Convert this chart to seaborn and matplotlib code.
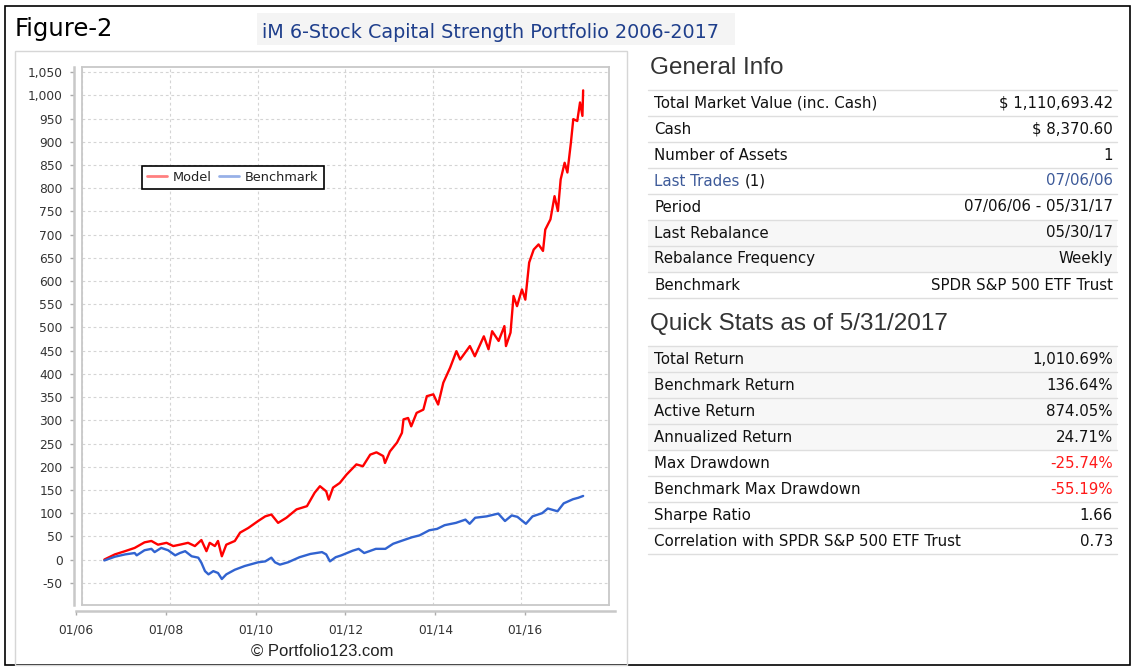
import pandas as pd
import seaborn as sns
import matplotlib.pyplot as plt
import matplotlib.dates as mdates
from matplotlib.patches import Rectangle
from matplotlib.lines import Line2D
from matplotlib.ticker import FuncFormatter

W, H = 1134, 670

# cumulative return (%)
model_dates = [
    '2006-07-06', '2006-10-01', '2006-12-25', '2007-03-15', '2007-06-05', '2007-08-01',
    '2007-09-25', '2007-12-05', '2008-01-30', '2008-03-25', '2008-06-01', '2008-07-28',
    '2008-09-20', '2008-11-01', '2008-11-28', '2009-01-10', '2009-02-05', '2009-03-09',
    '2009-04-15', '2009-06-25', '2009-08-08', '2009-10-15', '2010-01-05', '2010-03-05',
    '2010-04-25', '2010-06-20', '2010-08-28', '2010-11-20', '2011-02-15', '2011-04-20',
    '2011-06-03', '2011-07-25', '2011-08-15', '2011-09-20', '2011-11-15', '2012-01-10',
    '2012-04-01', '2012-05-25', '2012-07-25', '2012-09-15', '2012-11-10', '2012-11-25',
    '2013-01-05', '2013-03-05', '2013-04-15', '2013-04-28', '2013-06-05', '2013-07-01',
    '2013-08-15', '2013-10-10', '2013-11-08', '2014-01-01', '2014-02-10', '2014-03-25',
    '2014-05-20', '2014-07-12', '2014-08-12', '2014-11-01', '2014-12-12', '2015-02-25',
    '2015-04-05', '2015-05-05', '2015-06-28', '2015-08-15', '2015-08-28', '2015-10-05',
    '2015-10-30', '2015-11-28', '2016-01-08', '2016-02-05', '2016-03-08', '2016-04-15',
    '2016-05-25', '2016-07-01', '2016-07-20', '2016-09-01', '2016-10-05', '2016-11-02',
    '2016-11-25', '2016-12-28', '2017-01-20', '2017-02-18', '2017-03-10', '2017-04-12',
    '2017-05-05', '2017-05-25', '2017-05-31',
]
model_values = [
    0, 11, 18, 25, 37, 40,
    32, 36, 29, 32, 36, 29,
    42, 18, 36, 29, 40, 7,
    32, 40, 58, 68, 83, 93,
    97, 79, 90, 108, 115, 144,
    158, 147, 129, 155, 165, 183,
    205, 201, 226, 231, 223, 208,
    233, 252, 273, 302, 305, 287,
    316, 323, 352, 356, 334, 381,
    413, 449, 431, 460, 438, 481,
    453, 492, 471, 503, 460, 489,
    568, 546, 582, 560, 640, 668,
    679, 665, 711, 733, 783, 751,
    819, 855, 834, 898, 949, 945,
    985, 956, 1011,
]

bench_dates = [
    '2006-07-06', '2006-10-01', '2006-12-25', '2007-03-15', '2007-04-01', '2007-06-05',
    '2007-08-01', '2007-08-28', '2007-10-22', '2007-12-18', '2008-02-15', '2008-03-25',
    '2008-05-08', '2008-07-01', '2008-08-25', '2008-09-20', '2008-10-20', '2008-11-18',
    '2008-12-28', '2009-02-05', '2009-03-09', '2009-04-15', '2009-06-25', '2009-09-15',
    '2010-01-05', '2010-03-05', '2010-04-25', '2010-05-25', '2010-07-05', '2010-09-10',
    '2010-12-15', '2011-03-15', '2011-06-20', '2011-07-25', '2011-08-25', '2011-10-12',
    '2011-11-28', '2012-03-01', '2012-04-20', '2012-06-05', '2012-09-10', '2012-11-28',
    '2013-02-01', '2013-04-20', '2013-07-08', '2013-09-08', '2013-11-28', '2014-02-01',
    '2014-04-05', '2014-07-08', '2014-09-25', '2014-10-30', '2014-12-15', '2015-03-20',
    '2015-06-25', '2015-08-20', '2015-10-15', '2015-12-01', '2016-02-10', '2016-04-05',
    '2016-06-25', '2016-08-10', '2016-10-30', '2016-12-20', '2017-03-08', '2017-04-20',
    '2017-05-31',
]
bench_values = [
    -2, 6, 11, 14, 9, 20,
    23, 16, 25, 20, 9, 14,
    18, 7, 4, -7, -25, -32,
    -25, -29, -42, -32, -22, -14,
    -6, -4, 4, -6, -11, -6,
    5, 12, 16, 11, -4, 5,
    9, 19, 23, 14, 23, 23,
    34, 41, 48, 52, 63, 66,
    74, 79, 86, 77, 90, 93,
    99, 83, 95, 92, 77, 93,
    100, 110, 104, 121, 130, 133,
    137,
]

series_names = ['Model', 'Benchmark']
series_colors = ['#ff0000', '#3163d0']

y_ticks = list(range(-50, 1051, 50))
x_tick_dates = ['2006-01-01', '2008-01-01', '2010-01-01', '2012-01-01', '2014-01-01', '2016-01-01']
x_tick_labels = ['01/06', '01/08', '01/10', '01/12', '01/14', '01/16']

general_labels = ['Total Market Value (inc. Cash)', 'Cash', 'Number of Assets', 'Last Trades',
                  'Period', 'Last Rebalance', 'Rebalance Frequency', 'Benchmark']
general_values = ['$ 1,110,693.42', '$ 8,370.60', '1', '07/06/06',
                  '07/06/06 - 05/31/17', '05/30/17', 'Weekly', 'SPDR S&P 500 ETF Trust']
stats_labels = ['Total Return', 'Benchmark Return', 'Active Return', 'Annualized Return',
                'Max Drawdown', 'Benchmark Max Drawdown', 'Sharpe Ratio',
                'Correlation with SPDR S&P 500 ETF Trust']
stats_values = ['1,010.69%', '136.64%', '874.05%', '24.71%', '-25.74%', '-55.19%', '1.66', '0.73']

df = pd.concat([
    pd.DataFrame({'Date': pd.to_datetime(model_dates), 'Return': model_values, 'Series': 'Model'}),
    pd.DataFrame({'Date': pd.to_datetime(bench_dates), 'Return': bench_values, 'Series': 'Benchmark'}),
])

sns.set_theme(style='white')
plt.rcParams['font.family'] = ['DejaVu Sans']


def fx(x):
    return x / W


def fy(y):
    return 1 - y / H


fig = plt.figure(figsize=(W / 100, H / 100), dpi=100)
fig.patch.set_facecolor('white')

# frames
fig.patches.append(Rectangle((fx(5), fy(665)), fx(1130) - fx(5), fy(6) - fy(665),
                             transform=fig.transFigure, fill=False, edgecolor='black', linewidth=1.2))
fig.patches.append(Rectangle((fx(15), fy(665)), fx(627) - fx(15), fy(51) - fy(665),
                             transform=fig.transFigure, fill=False, edgecolor='#d6d6d6', linewidth=1))
fig.patches.append(Rectangle((fx(257), fy(45)), fx(735) - fx(257), fy(13) - fy(45),
                             transform=fig.transFigure, facecolor='#f4f4f4', edgecolor='none'))

fig.text(fx(15), fy(29), 'Figure-2', fontsize=17.5, color='black', va='center', ha='left')
fig.text(fx(491), fy(32), 'iM 6-Stock Capital Strength Portfolio 2006-2017', fontsize=13.8,
         color='#1f3f8c', va='center', ha='center')
fig.text(fx(322), fy(651), '\u00a9 Portfolio123.com', fontsize=12, color='#222222',
         va='center', ha='center', family=['Liberation Sans', 'DejaVu Sans'])

# main chart
ax = fig.add_axes([fx(82), fy(605), (609 - 82) / W, (605 - 66.7) / H])
sns.lineplot(data=df, x='Date', y='Return', hue='Series', hue_order=series_names,
             palette=dict(zip(series_names, series_colors)), linewidth=1.7,
             estimator=None, legend=False, ax=ax)

ax.set_xlim(pd.Timestamp('2006-01-01'), pd.Timestamp('2018-01-01'))
ax.set_ylim(-98, 1062)
ax.set_xticks(pd.to_datetime(x_tick_dates))
ax.set_yticks(y_ticks)
ax.yaxis.set_major_formatter(FuncFormatter(lambda v, p: f'{int(v):,}'))
ax.set_xlabel('')
ax.set_ylabel('')
ax.tick_params(axis='x', bottom=False, labelbottom=False)
ax.tick_params(axis='y', left=True, length=3, width=1, color='#aaaaaa', pad=5,
               labelsize=8.8, labelcolor='#333333')
ax.grid(True, color='#d4d4d4', linestyle=(0, (2.5, 2.5)), linewidth=0.8)
for side in ['top', 'right', 'bottom']:
    ax.spines[side].set_color('#c8c8c8')
    ax.spines[side].set_linewidth(1.3)
ax.spines['left'].set_position(('outward', 6))
ax.spines['left'].set_color('#c8c8c8')
ax.spines['left'].set_linewidth(1.8)
ax.add_line(Line2D([0, 0], [0, 1], transform=ax.transAxes, color='#c8c8c8',
                   linewidth=1.3, clip_on=False))

handles = [Line2D([], [], color=c, linewidth=2, alpha=0.5) for c in series_colors]
leg = ax.legend(handles, series_names, loc='upper left', bbox_to_anchor=(0.1133, 0.816),
                borderaxespad=0, ncol=2, fontsize=9.3, handlelength=1.55, handletextpad=0.45,
                columnspacing=0.6, borderpad=0.4, fancybox=False, framealpha=1)
leg.get_frame().set_edgecolor('black')
leg.get_frame().set_linewidth(1.2)
for t in leg.get_texts():
    t.set_color('#222222')

# separate date axis under the plot area
ax_x = fig.add_axes([fx(76), fy(611), (615 - 76) / W, 0.0001])
ax_x.patch.set_visible(False)
ax_x.set_xlim(mdates.date2num(pd.Timestamp('2006-01-01')), mdates.date2num(pd.Timestamp('2018-01-01')))
ax_x.set_xticks([mdates.date2num(pd.Timestamp(d)) for d in x_tick_dates])
ax_x.set_xticklabels(x_tick_labels)
ax_x.set_yticks([])
for side in ['top', 'left', 'right']:
    ax_x.spines[side].set_visible(False)
ax_x.spines['bottom'].set_color('#c8c8c8')
ax_x.spines['bottom'].set_linewidth(1.8)
ax_x.tick_params(axis='x', bottom=True, length=3, width=1, color='#aaaaaa', pad=6,
                 labelsize=8.8, labelcolor='#333333')

# right-hand tables
TX0, TX1 = 648, 1117
ROW = 26
LINK = '#3d5a99'


def draw_table(top, labels, values, shaded, value_colors):
    for i, (lab, val) in enumerate(zip(labels, values)):
        y0 = top + i * ROW
        if i in shaded:
            fig.patches.append(Rectangle((fx(TX0), fy(y0 + ROW)), fx(TX1) - fx(TX0), ROW / H,
                                         transform=fig.transFigure, facecolor='#f7f7f7',
                                         edgecolor='none'))
        fig.text(fx(1113), fy(y0 + 13.5), val, fontsize=10.8, va='center', ha='right',
                 color=value_colors.get(i, '#111111'))
    for i, lab in enumerate(labels):
        y0 = top + i * ROW
        fig.text(fx(654), fy(y0 + 13.5), lab, fontsize=10.8, va='center', ha='left',
                 color=LINK if lab == 'Last Trades' else '#111111')
    for i in range(len(labels) + 1):
        yy = top + i * ROW
        fig.add_artist(Line2D([fx(TX0), fx(TX1)], [fy(yy), fy(yy)], transform=fig.transFigure,
                              color='#dedede', linewidth=1))


fig.text(fx(650), fy(68), 'General Info', fontsize=17.5, color='#333333', va='center',
         ha='left', family=['Liberation Sans', 'DejaVu Sans'])
draw_table(89.5, general_labels, general_values, {5, 6}, {3: LINK})

fig.text(fx(650), fy(324), 'Quick Stats as of 5/31/2017', fontsize=17.5, color='#333333',
         va='center', ha='left', family=['Liberation Sans', 'DejaVu Sans'])
draw_table(346, stats_labels, stats_values, {0, 1, 2, 3}, {4: '#ff1a1a', 5: '#ff1a1a'})

# "(1)" after the link text
renderer = fig.canvas.get_renderer()
lt = [t for t in fig.texts if t.get_text() == 'Last Trades'][0]
bb = lt.get_window_extent(renderer)
fig.text((bb.x1 + 5) / W, fy(89.5 + 3 * ROW + 13.5), '(1)', fontsize=10.8, va='center',
         ha='left', color='#111111')

fig.savefig('out.png', dpi=100)
